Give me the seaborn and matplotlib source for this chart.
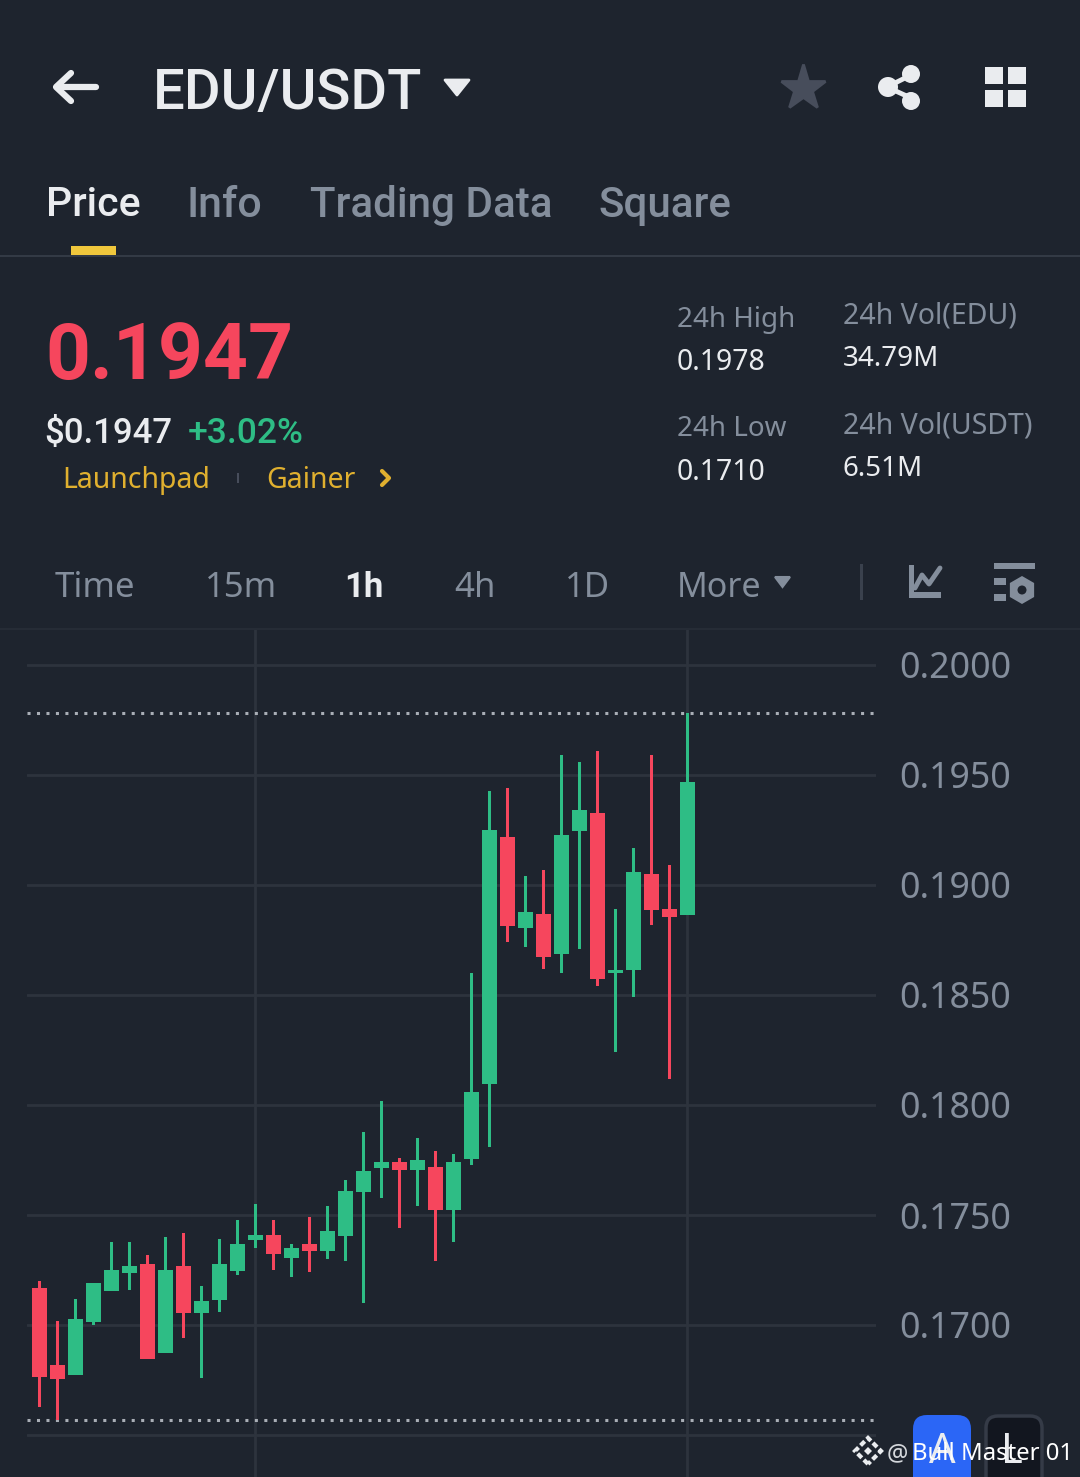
#Binance style EDU/USDT candle chart screenshot
import pandas as pd
import seaborn as sns
import matplotlib
matplotlib.use('Agg')
import matplotlib.pyplot as plt
from matplotlib.patches import FancyBboxPatch, Polygon, Rectangle, Circle, RegularPolygon

#candle values, oldest first
opens = [.17168, .16818, .16773, .17014, .17155, .17236, .17277, .16873, .17268, .17055,
         .17114, .17245, .17386, .17409, .17305, .17368, .17336, .17405, .17605, .17714,
         .17741, .17705, .17718, .17523, .17755, .18095, .19218, .18805, .18868, .18686,
         .19245, .19327, .18600, .18614, .19050, .18891, .18864]
closes = [.16764, .16755, .17027, .17191, .17250, .17268, .16845, .17250, .17055, .17109,
          .17277, .17368, .17409, .17323, .17350, .17336, .17427, .17609, .17700, .17741,
          .17705, .17750, .17523, .17741, .18059, .19250, .18814, .18877, .18673, .19227,
          .19341, .18573, .18614, .19059, .18886, .18855, .19468]
highs = [.17200, .17018, .17118, .17191, .17377, .17377, .17318, .17400, .17418, .17177,
         .17391, .17477, .17550, .17477, .17368, .17491, .17541, .17659, .17877, .18018,
         .17759, .17850, .17791, .17777, .18600, .19427, .19441, .19041, .19068, .19591,
         .19559, .19609, .18891, .19168, .19591, .19091, .19782]
lows = [.16627, .16568, .16773, .17000, .17155, .17159, .16845, .16873, .16941, .16759,
        .17059, .17227, .17350, .17250, .17218, .17241, .17300, .17291, .17100, .17577,
        .17441, .17541, .17291, .17377, .17727, .17809, .18741, .18718, .18618, .18600,
        .18709, .18541, .18241, .18491, .18818, .18118, .18864]

price_ticks = [0.2000, 0.1950, 0.1900, 0.1850, 0.1800, 0.1750, 0.1700, 0.1650]
tick_labels = ['0.2000', '0.1950', '0.1900', '0.1850', '0.1800', '0.1750', '0.1700', '']
day_high = 0.19782
day_low = 0.16568
cross_candles = [12, 36]

BG = '#1E242E'
GREEN = '#2EBD85'
RED = '#F6465D'
GRID = '#2D333D'
GREY = '#848E9C'
LIGHT = '#EAECEF'
YELLOW = '#E0B02F'

sns.set_theme(style='dark', rc={'figure.facecolor': BG, 'axes.facecolor': BG})
plt.rcParams['font.family'] = ['Noto Sans', 'DejaVu Sans']

fig = plt.figure(figsize=(10.8, 14.77), dpi=100)
W, H = 1080, 1477

#candle area
ax = fig.add_axes([27 / W, 0, 849 / W, 849 / H])
df = pd.DataFrame({'i': range(len(opens)), 'open': opens, 'close': closes, 'high': highs, 'low': lows})
df['top'] = df[['open', 'close']].max(axis=1)
df['bot'] = df[['open', 'close']].min(axis=1)
df['up'] = df['close'] >= df['open']

for is_up, color in [(True, GREEN), (False, RED)]:
    part = df[df['up'] == is_up]
    sns.barplot(x=part['i'], y=part['high'] - part['low'], bottom=part['low'].values, native_scale=True,
                color=color, saturation=1, width=3 / 18, orient='x', errorbar=None, ax=ax, zorder=3, linewidth=0)
    sns.barplot(x=part['i'], y=part['top'] - part['bot'], bottom=part['bot'].values, native_scale=True,
                color=color, saturation=1, width=15 / 18, orient='x', errorbar=None, ax=ax, zorder=3, linewidth=0)

ax.set_xlim(-12.1 / 18, 836.9 / 18)
ax.set_ylim(0.2 - 812 / 22000, 0.2 + 37 / 22000)
ax.set_xlabel('')
ax.set_ylabel('')
ax.yaxis.tick_right()
ax.set_yticks(price_ticks)
ax.set_yticklabels(tick_labels)
ax.set_xticks(cross_candles)
ax.set_xticklabels([])
ax.tick_params(axis='y', length=0, pad=17, labelsize=25.7, labelcolor=GREY)
ax.tick_params(axis='x', length=0)
ax.grid(True, color=GRID, linewidth=2, zorder=0)
ax.set_axisbelow(True)
for side in ax.spines:
    ax.spines[side].set_visible(False)
for level in [day_high, day_low]:
    ax.axhline(level, color='#A9AEB6', linewidth=2.2, linestyle=(0, (1, 2.1)), zorder=2)

#everything else is drawn in pixel coordinates on top
ui = fig.add_axes([0, 0, 1, 1], facecolor='none')
ui.set_xlim(0, W)
ui.set_ylim(H, 0)
ui.axis('off')


def label(x, y, s, size, color=LIGHT, weight='normal', ha='left', family=None):
    if family is None:
        family = ['Noto Sans', 'DejaVu Sans']
    ui.text(x, y, s, fontsize=size, color=color, fontweight=weight, ha=ha, va='center_baseline', family=family)


def box(x, y, w, h, color, **kw):
    ui.add_patch(Rectangle((x, y), w, h, facecolor=color, edgecolor='none', **kw))


#header
ui.plot([96, 58], [87, 87], color=LIGHT, lw=4.5, solid_capstyle='round')
ui.plot([71, 56, 71], [73, 87, 101], color=LIGHT, lw=4.5, solid_capstyle='round', solid_joinstyle='round')
label(153, 88, 'EDU/USDT', 40.5, LIGHT, 'medium', family='Roboto')
ui.add_patch(Polygon([[445, 80], [469, 80], [457, 95]], closed=True, facecolor=LIGHT, edgecolor=LIGHT, lw=2, joinstyle='round'))
ui.plot([803], [88], marker='*', markersize=34, color='#474D5B', markeredgecolor='#474D5B', markeredgewidth=2, clip_on=False)

#share icon
ui.plot([911, 887, 911], [75, 87, 98], color=LIGHT, lw=3.5)
for cx, cy, r in [(911, 74, 9), (888, 87, 10), (911, 101, 9)]:
    ui.add_patch(Circle((cx, cy), r, facecolor=LIGHT, edgecolor='none'))

#grid icon
for gx, gy in [(985, 67), (1008, 67), (985, 90), (1008, 90)]:
    box(gx, gy, 17.5, 17, LIGHT)

#tabs
label(46, 201, 'Price', 29.5, LIGHT, 'medium', family='Roboto')
label(187, 201, 'Info', 31, GREY, 'medium', family='Roboto')
label(310, 201, 'Trading Data', 30.3, GREY, 'medium', family='Roboto')
label(598, 201, 'Square', 30.3, GREY, 'medium', family='Roboto')
box(71, 246, 45, 9, '#F0C73C')
box(0, 255, W, 2, '#333A45')

#price block
label(45, 350, '0.1947', 56.5, RED, 'bold', family='Roboto')
label(44, 430, '$0.1947', 25, LIGHT, 'medium', family='Roboto')
label(188, 430, '+3.02%', 25.5, GREEN, 'medium', family='Roboto')
label(62, 477, 'Launchpad', 20.5, YELLOW)
box(237, 473, 2, 10, '#474D5B')
label(266, 477, 'Gainer', 20.5, YELLOW)
ui.plot([382, 389, 382], [471, 478, 485], color=YELLOW, lw=3)

#day stats
label(677, 316, '24h High', 20, GREY)
label(677, 359, '0.1978', 20.5, LIGHT)
label(677, 426, '24h Low', 20, GREY)
label(677, 469, '0.1710', 20.5, LIGHT)
label(843, 313, '24h Vol(EDU)', 20.5, GREY)
label(843, 355, '34.79M', 20, LIGHT)
label(843, 422, '24h Vol(USDT)', 20.5, GREY)
label(843, 465, '6.51M', 20, LIGHT)

#interval row
label(55, 584, 'Time', 25, GREY)
label(205, 584, '15m', 25, GREY)
label(344, 584, '1h', 25, LIGHT, 'bold', family='Roboto')
label(454, 584, '4h', 25, GREY)
label(565, 584, '1D', 25, GREY)
label(677, 584, 'More', 24.5, GREY)
ui.add_patch(Polygon([[775, 577], [790, 577], [782.5, 587]], closed=True, facecolor=GREY, edgecolor=GREY, lw=1.5))
box(860, 564, 3, 36, '#3A414D')

#chart tool icons
box(909, 565, 5, 33, GREY)
box(909, 592, 32, 6, GREY)
ui.plot([915, 922, 929, 940], [588, 575, 584, 568], color=GREY, lw=3.5)
box(994, 563, 41, 6, GREY)
box(994, 578, 12, 7, GREY)
box(994, 594, 12, 7, GREY)
ui.add_patch(RegularPolygon((1022, 590), 6, radius=14, facecolor=GREY, edgecolor='none'))
ui.add_patch(Circle((1022, 590), 4.5, facecolor=BG, edgecolor='none'))
box(0, 628, W, 2, '#262C36')

#bottom buttons and watermark
ui.add_patch(FancyBboxPatch((913, 1415), 58, 80, boxstyle='round,pad=0,rounding_size=14',
                            facecolor='#2B66F6', edgecolor='none'))
ui.add_patch(FancyBboxPatch((986, 1416), 56, 80, boxstyle='round,pad=0,rounding_size=12',
                            facecolor='#12161F', edgecolor='#353B47', lw=2.5))
label(942, 1447, 'A', 30, LIGHT, ha='center')
label(1012, 1447, 'L', 30, LIGHT, ha='center')
ui.add_patch(RegularPolygon((868, 1451), 4, radius=13, facecolor='none', edgecolor=LIGHT, lw=3, linestyle=(0, (1.4, 0.7))))
ui.add_patch(RegularPolygon((868, 1451), 4, radius=4, facecolor=LIGHT, edgecolor='none'))
label(887, 1451, '@', 17.2, '#D5D8DC')
label(912, 1451, 'Bull Master 01', 17.2, '#FFFFFF')

fig.savefig('out.png', dpi=100, facecolor=BG)
plt.close()
